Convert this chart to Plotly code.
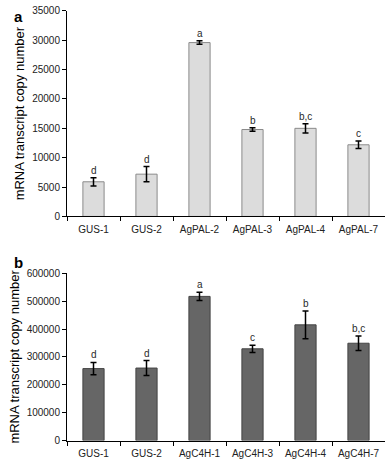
import plotly.graph_objects as go

cats_a = ["GUS-1", "GUS-2", "AgPAL-2", "AgPAL-3", "AgPAL-4", "AgPAL-7"]
vals_a = [5900, 7200, 29600, 14800, 15000, 12200]
errs_a = [700, 1300, 300, 300, 800, 650]
lbls_a = ["d", "d", "a", "b", "b,c", "c"]

cats_b = ["GUS-1", "GUS-2", "AgC4H-1", "AgC4H-3", "AgC4H-4", "AgC4H-7"]
vals_b = [258000, 260000, 517000, 329000, 415000, 349000]
errs_b = [22000, 27000, 15000, 13000, 50000, 26000]
lbls_b = ["d", "d", "a", "c", "b", "b,c"]

W, H = 387, 467
FONT = "Liberation Sans, Arial, sans-serif"

fig = go.Figure()
fig.add_trace(go.Bar(
    x=cats_a, y=vals_a, xaxis="x", yaxis="y", width=0.4,
    marker=dict(color="#dcdcdc", line=dict(color="#8a8a8a", width=1)),
    error_y=dict(type="data", array=errs_a, color="black", thickness=1.5, width=3),
    showlegend=False))
fig.add_trace(go.Bar(
    x=cats_b, y=vals_b, xaxis="x2", yaxis="y2", width=0.4,
    marker=dict(color="#666666", line=dict(color="#444444", width=1)),
    error_y=dict(type="data", array=errs_b, color="black", thickness=1.5, width=3),
    showlegend=False))

ann = []
for c, v, e, l in zip(cats_a, vals_a, errs_a, lbls_a):
    ann.append(dict(x=c, y=v + e, xref="x", yref="y", text=l, showarrow=False,
                    yanchor="bottom", yshift=0, font=dict(size=10, color="#2a2a2a", family=FONT)))
for c, v, e, l in zip(cats_b, vals_b, errs_b, lbls_b):
    ann.append(dict(x=c, y=v + e, xref="x2", yref="y2", text=l, showarrow=False,
                    yanchor="bottom", yshift=0, font=dict(size=10, color="#2a2a2a", family=FONT)))
ann.append(dict(x=12 / W, y=1 - 0 / H, xref="paper", yref="paper", text="<b>a</b>",
                showarrow=False, xanchor="left", yanchor="top",
                font=dict(size=15, color="black", family=FONT)))
ann.append(dict(x=12 / W, y=1 - 253 / H, xref="paper", yref="paper", text="<b>b</b>",
                showarrow=False, xanchor="left", yanchor="top",
                font=dict(size=15, color="black", family=FONT)))

xdom = [67 / W, 385 / W]
axis_common = dict(showline=True, linecolor="black", linewidth=1, ticks="outside",
                   tickcolor="black", ticklen=4, showgrid=False, zeroline=False,
                   tickangle=0, tickfont=dict(size=10, color="#222", family=FONT))
yfmt = dict(tickformat="d", separatethousands=False, exponentformat="none")

fig.update_layout(
    width=W, height=H, margin=dict(l=0, r=0, t=0, b=0),
    paper_bgcolor="white", plot_bgcolor="white",
    font=dict(family=FONT),
    annotations=ann,
    xaxis=dict(domain=xdom, anchor="y", tickson="boundaries", ticklabelstandoff=4,
               **axis_common),
    yaxis=dict(domain=[1 - 216 / H, 1 - 5 / H], anchor="x", range=[0, 35000],
               dtick=5000, title=dict(text="mRNA transcript copy number",
                                      font=dict(size=13, color="black", family=FONT),
                                      standoff=4), **yfmt, **axis_common),
    xaxis2=dict(domain=xdom, anchor="y2", tickson="boundaries", ticklabelstandoff=3,
                **axis_common),
    yaxis2=dict(domain=[1 - 446 / H, 1 - 274.3 / H], anchor="x2", range=[0, 600000],
                dtick=100000, title=dict(text="mRNA transcript copy number",
                                         font=dict(size=13, color="black", family=FONT),
                                         standoff=4), **yfmt, **axis_common),
)

fig.write_html("out.html", config={"displayModeBar": False},
               post_script="document.body.style.margin='0';document.body.style.overflow='hidden';")
